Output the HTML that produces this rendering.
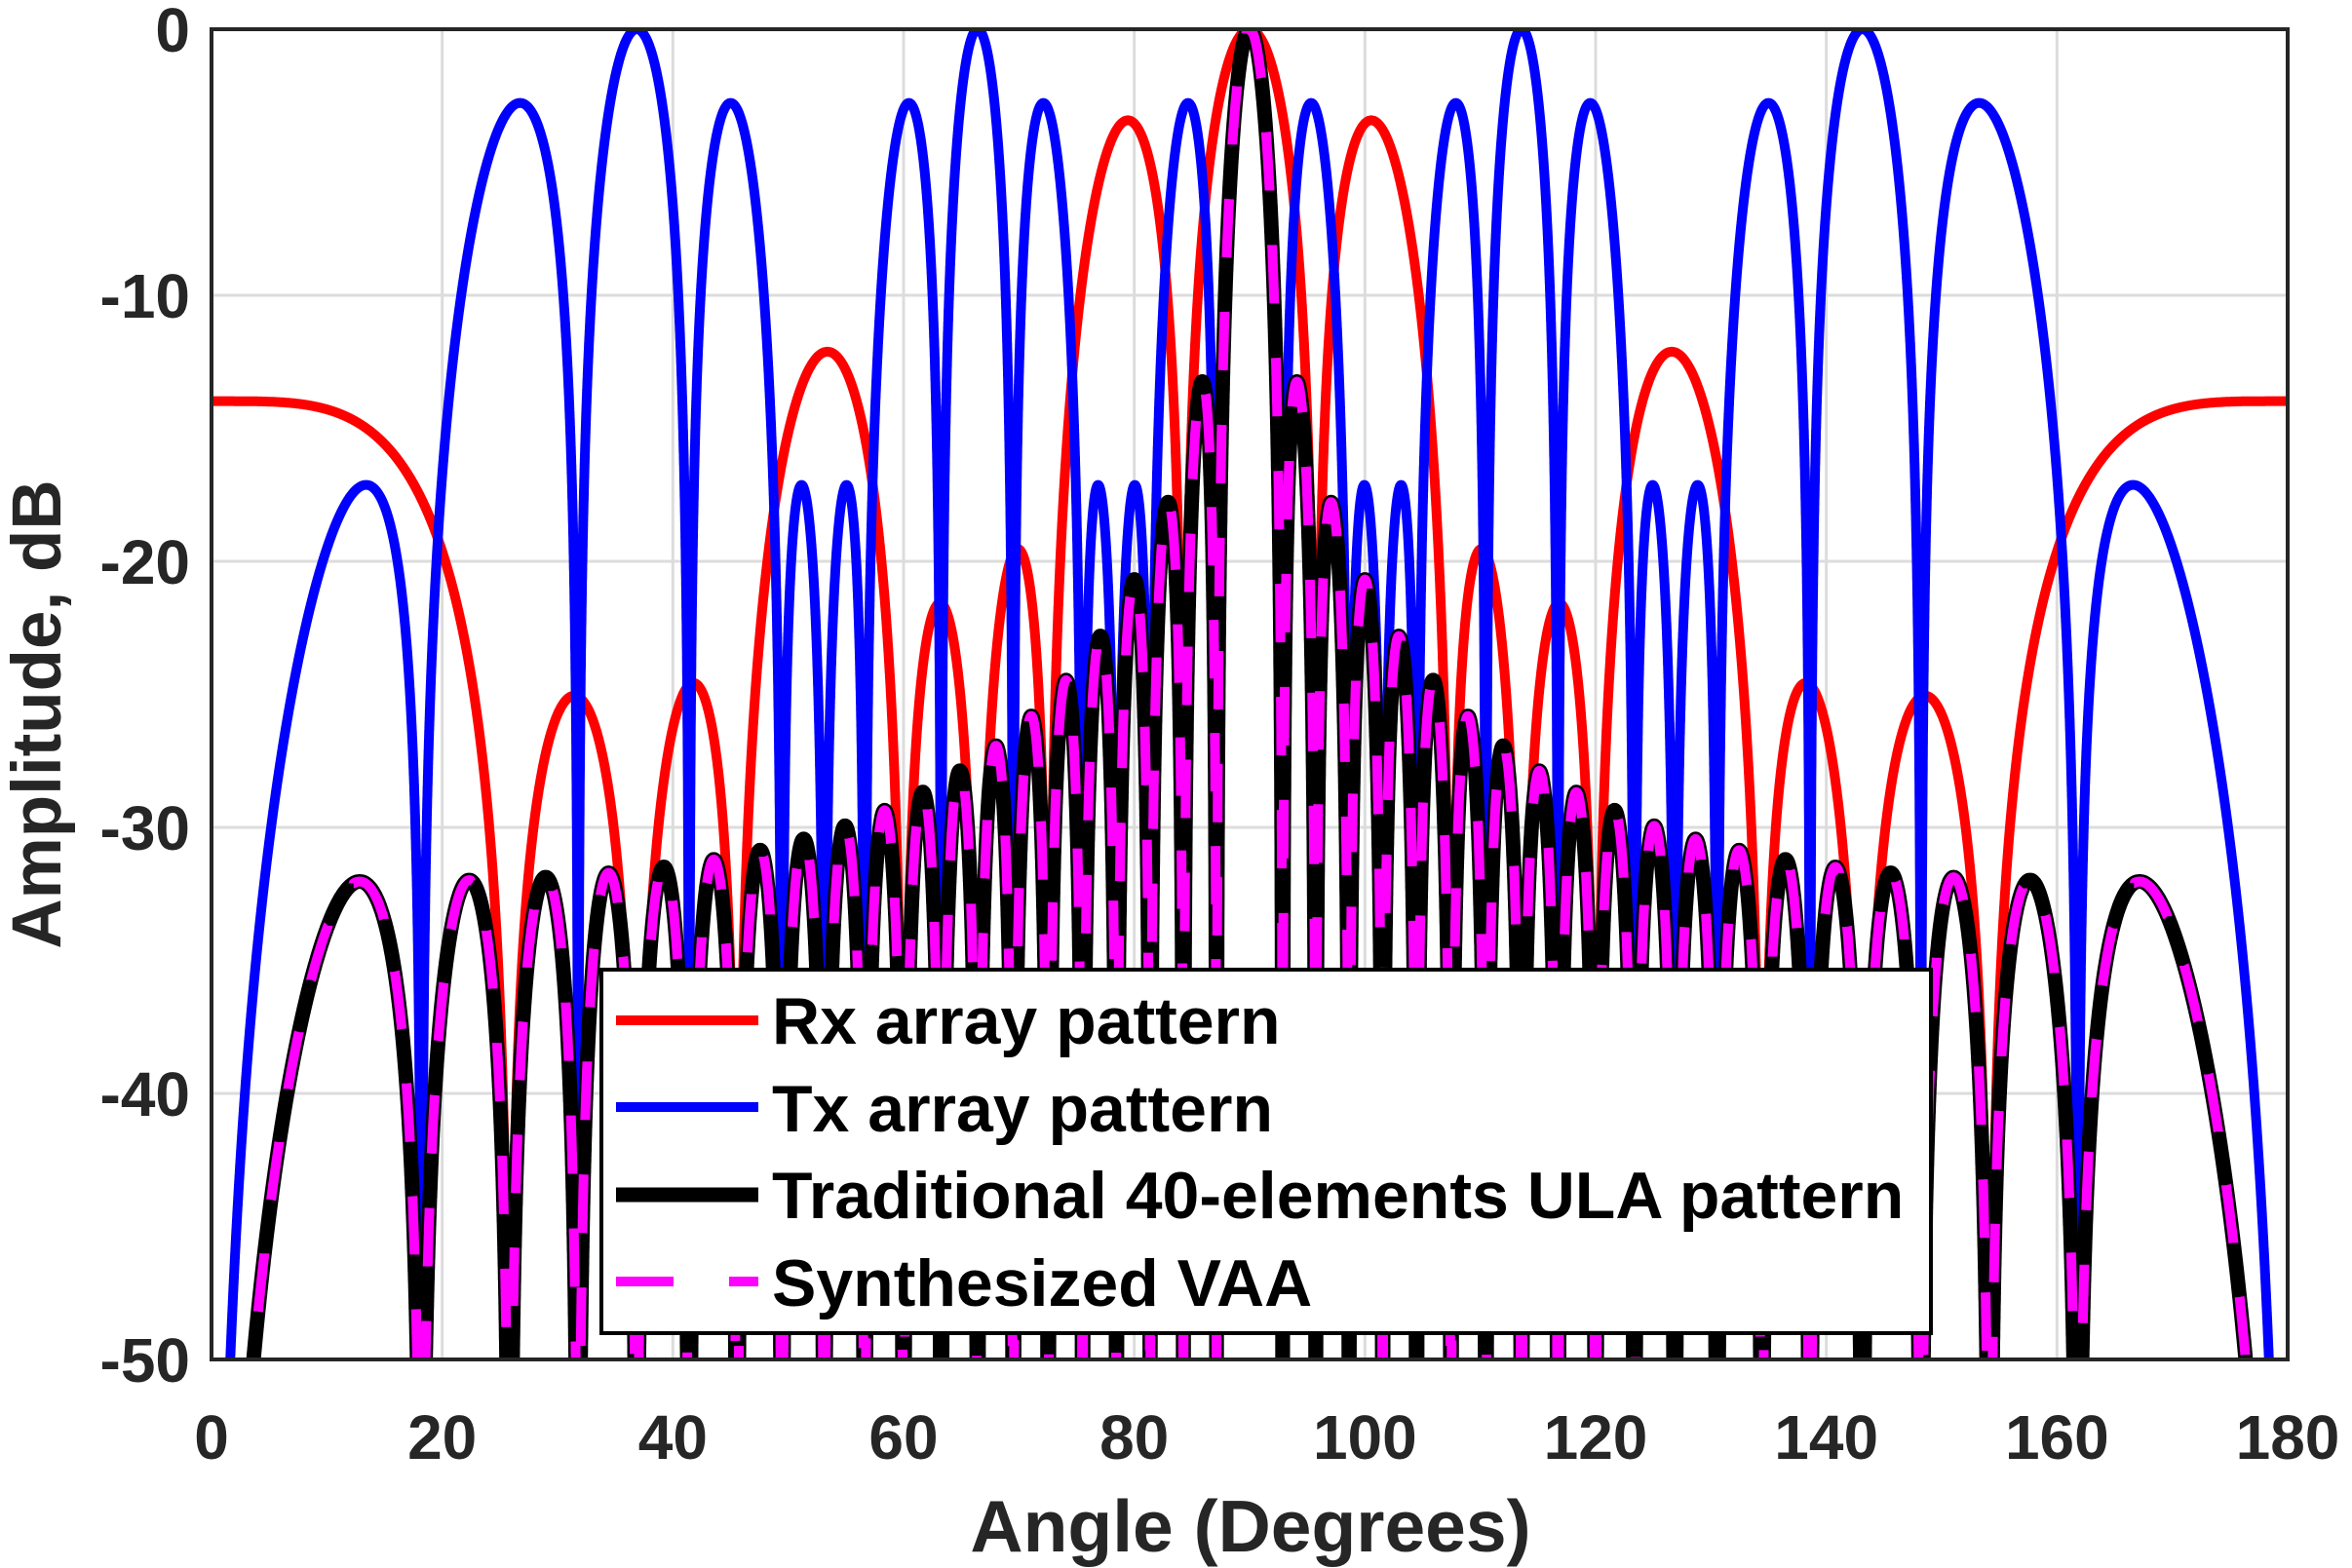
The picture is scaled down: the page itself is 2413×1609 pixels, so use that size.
<!DOCTYPE html>
<html><head><meta charset="utf-8"><style>
html,body{margin:0;padding:0;background:#fff;}
svg{display:block;}
text{font-family:"Liberation Sans",Arial,sans-serif;font-weight:bold;}
</style></head><body>
<svg id="s" width="2413" height="1609" xmlns="http://www.w3.org/2000/svg">
<defs><clipPath id="c"><rect x="217" y="30" width="2130" height="1365"/></clipPath></defs>
<rect width="2413" height="1609" fill="#fff"/>
<g id="grid" stroke="#dcdcdc" stroke-width="3"></g>
<g id="curves" clip-path="url(#c)" fill="none" stroke-linejoin="round"></g>
<rect x="217" y="30" width="2130" height="1365" fill="none" stroke="#262626" stroke-width="4"/>
<g id="ticks" fill="#262626" font-size="64"></g>
<text x="1283" y="1592" font-size="75" fill="#262626" text-anchor="middle">Angle (Degrees)</text>
<text transform="translate(62,733) rotate(-90)" font-size="71" fill="#262626" text-anchor="middle">Amplitude, dB</text>
<g>
<rect x="617" y="995" width="1364" height="373" fill="#fff" stroke="#000" stroke-width="4"/>
<line x1="632" y1="1047" x2="778" y2="1047" stroke="#f00" stroke-width="10"/>
<line x1="632" y1="1136" x2="778" y2="1136" stroke="#00f" stroke-width="10"/>
<line x1="632" y1="1226" x2="778" y2="1226" stroke="#000" stroke-width="15"/>
<line x1="632" y1="1315" x2="691" y2="1315" stroke="#f0f" stroke-width="10"/>
<line x1="748" y1="1315" x2="778" y2="1315" stroke="#f0f" stroke-width="10"/>
<g font-size="68" fill="#000">
<text x="792" y="1071">Rx array pattern</text>
<text x="792" y="1161">Tx array pattern</text>
<text x="792" y="1250">Traditional 40-elements ULA pattern</text>
<text x="792" y="1340">Synthesized VAA</text>
</g>
</g>
</svg>
<script>
const NS="http://www.w3.org/2000/svg";
const X0=217,X1=2347,Y0=30,Y1=1395;
const fx=t=>X0+t/180*(X1-X0), fy=d=>Y0+(-d)/50*(Y1-Y0);
const grid=document.getElementById('grid'), ticks=document.getElementById('ticks');
function el(p,tag,a,txt){const e=document.createElementNS(NS,tag);for(const k in a)e.setAttribute(k,a[k]);if(txt!==undefined)e.textContent=txt;p.appendChild(e);return e;}
for(let t=0;t<=180;t+=20){const x=fx(t);if(t>0&&t<180)el(grid,'line',{x1:x,y1:Y0,x2:x,y2:Y1});
el(ticks,'text',{x:x,y:1497,'text-anchor':'middle'},String(t));}
for(let d=0;d>=-50;d-=10){const y=fy(d);if(d<0&&d>-50)el(grid,'line',{x1:X0,y1:y,x2:X1,y2:y});
el(ticks,'text',{x:195,y:y+23,'text-anchor':'end'},String(d));}
function db(v){v=Math.abs(v);if(v<1e-6)v=1e-6;let d=20*Math.log10(v);if(d<-60)d=-60;return d;}
function sinc(N,u){const p=Math.PI*u/2;const s=Math.sin(p);if(Math.abs(s)<1e-9)return 1;return Math.sin(N*p)/(N*s);}
const rx=u=>sinc(5,u)*Math.cos(5*Math.PI*u);
const tx=u=>Math.cos(5*Math.PI*u/2)*Math.cos(10*Math.PI*u);
const ula=u=>sinc(40,u);
function path(f){let s='';for(let i=0;i<=36000;i++){const t=i*0.005;const u=Math.cos(t*Math.PI/180);
const d=db(f(u));s+=(i?'L':'M')+fx(t).toFixed(1)+' '+fy(d).toFixed(1);}return s;}
const cg=document.getElementById('curves');
el(cg,'path',{d:path(rx),stroke:'#f00','stroke-width':10});
el(cg,'path',{d:path(tx),stroke:'#00f','stroke-width':10});
el(cg,'path',{d:path(ula),stroke:'#000','stroke-width':15});
el(cg,'path',{d:path(ula),stroke:'#f0f','stroke-width':10,'stroke-dasharray':'60 56'});
</script>
</body></html>
